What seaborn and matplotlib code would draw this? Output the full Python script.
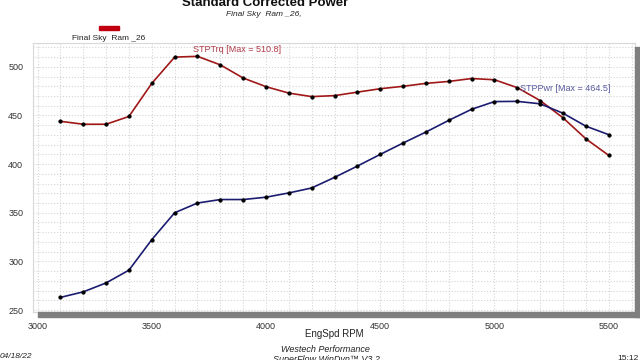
import matplotlib
matplotlib.use("Agg")
import matplotlib.pyplot as plt
from matplotlib.patches import Rectangle
from matplotlib.ticker import MultipleLocator
import pandas as pd
import seaborn as sns

# dyno pull, 100 rpm steps
rpm = list(range(3100, 5600, 100))
stp_trq = [444, 441, 441, 449, 483, 510, 510.8, 502, 488.5, 479.6, 473, 469.4,
           470.4, 474, 477.5, 480, 483, 485, 488, 486.7, 478.6, 465.3, 447.6, 426, 409]
stp_pwr = [263, 268.7, 277.9, 291, 322.4, 350, 360, 363.6, 363.6, 366, 370.4, 375.5,
           386.4, 398, 410, 421.7, 433, 445, 456.4, 464.3, 464.5, 462, 452.3, 439, 430.3]

df = pd.DataFrame({"rpm": rpm, "trq": stp_trq, "pwr": stp_pwr})

sns.set_style("white")
plt.rcParams['font.family'] = ['Liberation Sans', 'DejaVu Sans']

fig = plt.figure(figsize=(6.4, 3.6), dpi=100)
ax = fig.add_axes([33/640, 48/360, 602/640, 269/360])

# drop shadow of the plot frame (bottom + right)
fig.patches.append(Rectangle((38/640, 43/360), 602/640, 5/360, transform=fig.transFigure,
                             color='#7f7f7f', zorder=0))
fig.patches.append(Rectangle((635/640, 43/360), 5/640, 270/360, transform=fig.transFigure,
                             color='#7f7f7f', zorder=0))

sns.lineplot(data=df, x="rpm", y="trq", ax=ax, color='#a01818', lw=1.2,
             marker='o', markersize=2.3, markerfacecolor='black', markeredgecolor='black')
sns.lineplot(data=df, x="rpm", y="pwr", ax=ax, color='#1c1c70', lw=1.2,
             marker='o', markersize=2.3, markerfacecolor='black', markeredgecolor='black')

ax.set_xlim(2980, 5615)
ax.set_ylim(248, 524.5)
ax.xaxis.set_major_locator(MultipleLocator(500))
ax.yaxis.set_major_locator(MultipleLocator(50))
ax.xaxis.set_minor_locator(MultipleLocator(100))
ax.yaxis.set_minor_locator(MultipleLocator(10))
ax.grid(True, which='both', color='#d4d4d4', linestyle=':', lw=0.8)
ax.set_axisbelow(True)
for s in ax.spines.values():
    s.set_color('#d8d8d8')
    s.set_linewidth(0.8)
ax.tick_params(which='both', length=0, labelsize=6.5, colors='#333333')
ax.tick_params(axis='x', pad=7)
ax.tick_params(axis='y', pad=7)
ax.set_xlabel("EngSpd RPM", fontsize=7, color='#222222', labelpad=-1)
ax.set_ylabel("")

# peak labels
i_t = stp_trq.index(max(stp_trq))
i_p = stp_pwr.index(max(stp_pwr))
ax.annotate("STPTrq [Max = %.1f]" % stp_trq[i_t], (rpm[i_t], stp_trq[i_t]),
            xytext=(-3, 2), textcoords='offset points', fontsize=6.5, color='#b03a48',
            va='bottom', ha='left')
ax.annotate("STPPwr [Max = %.1f]" % stp_pwr[i_p], (rpm[i_p], stp_pwr[i_p]),
            xytext=(2, 6), textcoords='offset points', fontsize=6.5, color='#5a5aa0',
            va='bottom', ha='left')

# header
fig.text(265/640, 1 - 6/360, "Standard Corrected Power", ha='center', va='baseline',
         fontsize=9.5, fontweight='bold', color='#111111')
fig.text(264/640, 1 - 14/360, "Final Sky  Ram _26,", ha='center', va='center',
         fontsize=6, style='italic', color='#222222')

# legend swatch
fig.patches.append(Rectangle((99/640, 1 - 30/360), 20/640, 4/360, transform=fig.transFigure,
                             color='#c00010'))
fig.text(109/640, 1 - 38/360, "Final Sky  Ram _26", ha='center', va='center',
         fontsize=6, color='#222222')

# footer
fig.text(0, 1 - 357/360, "04/18/22", ha='left', va='center', fontsize=6, style='italic',
         color='#222222')
fig.text(325/640, 1 - 350/360, "Westech Performance", ha='center', va='center',
         fontsize=6.5, style='italic', color='#222222')
fig.text(326/640, 1 - 359/360, "SuperFlow WinDyn\u2122 V3.2", ha='center', va='center',
         fontsize=6.5, style='italic', color='#222222')
fig.text(617/640, 1 - 359/360, "15:12", ha='left', va='center', fontsize=6,
         color='#222222')

fig.savefig("out.png", dpi=100)
